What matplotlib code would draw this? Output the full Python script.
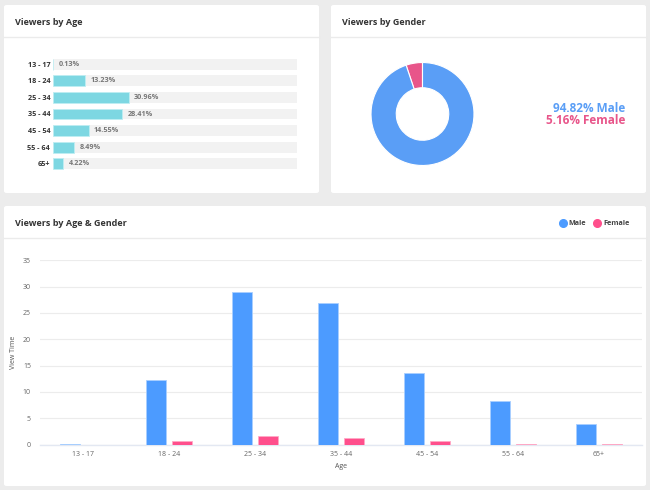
import matplotlib
matplotlib.use("Agg")
import matplotlib.pyplot as plt
import numpy as np
from matplotlib.patches import FancyBboxPatch
from matplotlib.lines import Line2D

plt.rcParams["font.family"] = ["Open Sans", "DejaVu Sans"]

# data
age_groups = ["13 - 17", "18 - 24", "25 - 34", "35 - 44", "45 - 54", "55 - 64", "65+"]
age_share = [0.13, 13.23, 30.96, 28.41, 14.55, 8.49, 4.22]
genders = ["Male", "Female"]
gender_share = [94.82, 5.16]
male_time = [0.05, 12.3, 29.0, 26.9, 13.6, 8.2, 3.95]
female_time = [0.0, 0.65, 1.65, 1.2, 0.75, 0.12, 0.1]
y_ticks = [0, 5, 10, 15, 20, 25, 30, 35]

W, H = 650, 490
BLUE = "#4c9bff"
PINK = "#ff4f8c"
PIE_BLUE = "#5a9ef6"
PIE_PINK = "#e8558a"
CYAN = "#7dd7e2"
TITLE = "#333333"


def box(x0, y0, x1, y1):
    # pixel box (top-left origin) -> figure fraction rect
    return [x0 / W, 1 - y1 / H, (x1 - x0) / W, (y1 - y0) / H]


fig = plt.figure(figsize=(6.5, 4.9), dpi=100)
fig.patch.set_facecolor("#ececec")


def panel(x0, y0, x1, y1, head, title):
    r = box(x0, y0, x1, y1)
    fig.patches.append(FancyBboxPatch((r[0], r[1]), r[2], r[3],
                                      boxstyle="round,pad=0,rounding_size=0.004",
                                      transform=fig.transFigure, facecolor="white",
                                      edgecolor="none", zorder=-10))
    fig.lines.append(Line2D([x0 / W, x1 / W], [1 - head / H, 1 - head / H],
                            transform=fig.transFigure, color="#ebebeb", lw=1, zorder=-5))
    fig.text((x0 + 11) / W, 1 - (y0 + 17.5) / H, title, fontsize=6.5,
             fontweight="bold", color=TITLE, va="center", ha="left")


panel(4, 5, 319, 193, 37, "Viewers by Age")
panel(331, 5, 646, 193, 37, "Viewers by Gender")
panel(4, 206, 646, 486, 238, "Viewers by Age & Gender")

# Viewers by Age
ax1 = fig.add_axes(box(53, 56, 297, 172))
ypos = np.arange(len(age_groups))
ax1.barh(ypos, [100] * len(age_groups), height=0.65, color="#f2f2f2")
ax1.barh(ypos, age_share, height=0.65, color=CYAN, edgecolor="#bfeef3", linewidth=0.6)
for y, v in zip(ypos, age_share):
    ax1.annotate(f"{v:.2f}%", (v, y), xytext=(4, 0), textcoords="offset points",
                 va="center", ha="left", fontsize=5.2, fontweight="bold", color="#777777")
ax1.set_xlim(0, 100)
ax1.set_ylim(len(age_groups) - 0.5, -0.5)
ax1.set_yticks(ypos)
ax1.set_yticklabels(age_groups, fontsize=5.2, fontweight="bold", color="#333333")
ax1.set_xticks([])
ax1.tick_params(axis="y", length=0, pad=2)
for s in ax1.spines.values():
    s.set_visible(False)
ax1.patch.set_alpha(0)

# Viewers by Gender
ax2 = fig.add_axes(box(370.5, 62, 474.5, 166))
ax2.pie(gender_share[::-1], colors=[PIE_PINK, PIE_BLUE], startangle=90, counterclock=True,
        radius=1, wedgeprops=dict(width=0.49, edgecolor="white", linewidth=0.8))
ax2.set_xlim(-1.01, 1.01)
ax2.set_ylim(-1.01, 1.01)
ax2.set_aspect("equal")
fig.text(625 / W, 1 - 108 / H, f"{gender_share[0]:.2f}% {genders[0]}", ha="right", va="center",
         fontsize=8.5, fontweight="bold", color=PIE_BLUE)
fig.text(625 / W, 1 - 121 / H, f"{gender_share[1]:.2f}% {genders[1]}", ha="right", va="center",
         fontsize=8.5, fontweight="bold", color=PIE_PINK)

# Viewers by Age & Gender
ax3 = fig.add_axes(box(40, 260.3, 642, 444.5))
ax3.patch.set_alpha(0)
x = np.arange(len(age_groups))
bw = 0.235
ax3.bar(x - 0.148, male_time, width=bw, color=BLUE, edgecolor="#a9cfff", linewidth=0.6, zorder=3)
ax3.bar(x + 0.148, female_time, width=bw, color=PINK, edgecolor="#ffa9c6", linewidth=0.6, zorder=3)
ax3.set_xlim(-0.5, len(age_groups) - 0.5)
ax3.set_ylim(0, 35)
ax3.set_yticks(y_ticks)
ax3.set_xticks(x)
ax3.set_xticklabels(age_groups)
ax3.tick_params(axis="both", length=0, labelsize=5, colors="#666666")
ax3.tick_params(axis="x", pad=5)
ax3.tick_params(axis="y", pad=6.5)
ax3.grid(axis="y", color="#ececec", lw=0.8, zorder=0)
for s in ["top", "right", "left"]:
    ax3.spines[s].set_visible(False)
ax3.spines["bottom"].set_color("#e3e8f2")
ax3.spines["bottom"].set_linewidth(1)
ax3.set_ylabel("View Time", fontsize=5, color="#555555", labelpad=4)
ax3.set_xlabel("Age", fontsize=5, color="#555555", labelpad=3)

# legend
for lx, lab, col in [(562.5, genders[0], BLUE), (597, genders[1], PINK)]:
    fig.lines.append(Line2D([lx / W], [1 - 223.3 / H], marker="o", markersize=5.5,
                            color=col, transform=fig.transFigure, linestyle="none"))
    fig.text((lx + 6) / W, 1 - 223.3 / H, lab, fontsize=5.2, fontweight="bold",
             color="#444444", va="center", ha="left")

fig.savefig("out.png", dpi=100, facecolor=fig.get_facecolor())
